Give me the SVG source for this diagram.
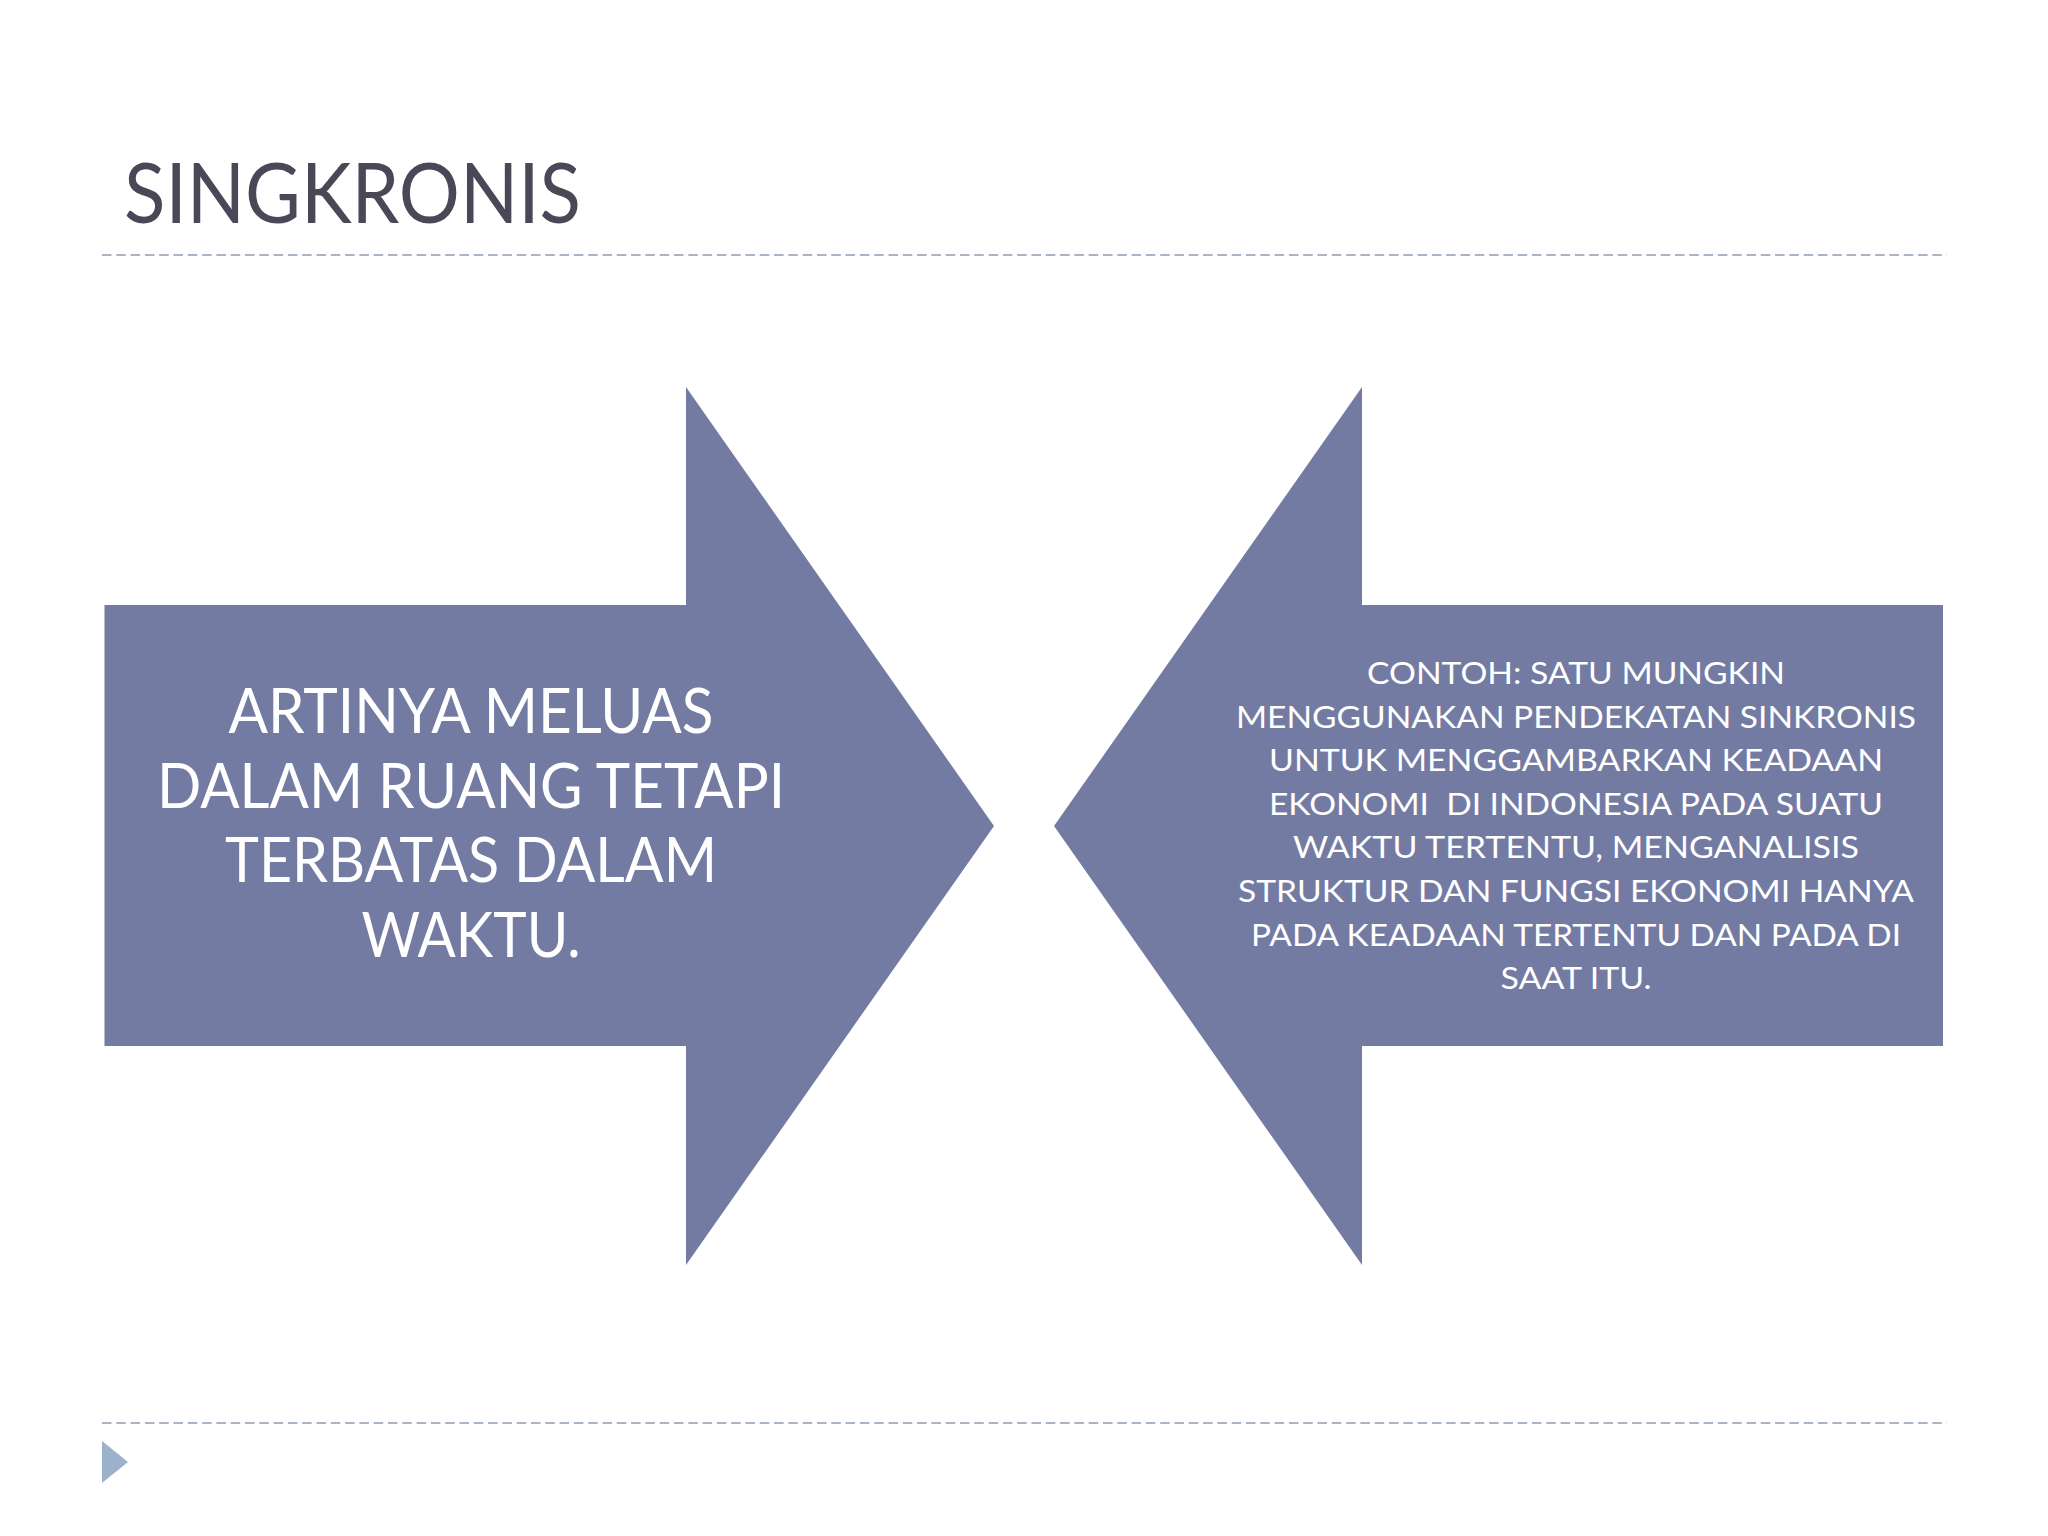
<svg xmlns="http://www.w3.org/2000/svg" width="2048" height="1536" viewBox="0 0 2048 1536">
<style>
.title{font-family:Lato,"Open Sans","Liberation Sans",sans-serif;font-size:84px;fill:#4a4857}
.big{font-family:Lato,"Open Sans","Liberation Sans",sans-serif;font-size:61px;fill:#ffffff;text-anchor:middle}
.small{font-family:Lato,"Open Sans","Liberation Sans",sans-serif;font-size:31px;fill:#ffffff;text-anchor:middle}
.arrow{fill:#737ba3}
.rule{stroke:#a9b5c5;stroke-width:2;stroke-dasharray:9.5 4.8;fill:none}
</style>
<rect width="2048" height="1536" fill="#ffffff"/>
<g id="title">
<text class="title" x="124" y="223" textLength="457" lengthAdjust="spacingAndGlyphs">SINGKRONIS</text>
</g>
<line class="rule" x1="102" y1="255" x2="1947" y2="255"/>
<line class="rule" x1="102" y1="1423" x2="1947" y2="1423"/>
<polygon points="102,1441 128,1462 102,1483" fill="#9cb2cc"/>
<g id="left-arrow">
<polygon class="arrow" points="104.5,605 686,605 686,387 994,826 686,1265 686,1046 104.5,1046"/>
<text class="big" x="471" y="733" textLength="485" lengthAdjust="spacingAndGlyphs">ARTINYA MELUAS</text>
<text class="big" x="471" y="808" textLength="628" lengthAdjust="spacingAndGlyphs">DALAM RUANG TETAPI</text>
<text class="big" x="471" y="882" textLength="492" lengthAdjust="spacingAndGlyphs">TERBATAS DALAM</text>
<text class="big" x="471" y="957" textLength="219" lengthAdjust="spacingAndGlyphs">WAKTU.</text>
</g>
<g id="right-arrow">
<polygon class="arrow" points="1943,605 1362,605 1362,387 1054,826 1362,1265 1362,1046 1943,1046"/>
<text class="small" x="1576" y="684" textLength="418" lengthAdjust="spacingAndGlyphs">CONTOH: SATU MUNGKIN</text>
<text class="small" x="1576" y="728" textLength="680" lengthAdjust="spacingAndGlyphs">MENGGUNAKAN PENDEKATAN SINKRONIS</text>
<text class="small" x="1576" y="771" textLength="614" lengthAdjust="spacingAndGlyphs">UNTUK MENGGAMBARKAN KEADAAN</text>
<text class="small" x="1576" y="815" textLength="614" lengthAdjust="spacingAndGlyphs" xml:space="preserve">EKONOMI  DI INDONESIA PADA SUATU</text>
<text class="small" x="1576" y="858" textLength="566" lengthAdjust="spacingAndGlyphs">WAKTU TERTENTU, MENGANALISIS</text>
<text class="small" x="1576" y="902" textLength="676" lengthAdjust="spacingAndGlyphs">STRUKTUR DAN FUNGSI EKONOMI HANYA</text>
<text class="small" x="1576" y="946" textLength="650" lengthAdjust="spacingAndGlyphs">PADA KEADAAN TERTENTU DAN PADA DI</text>
<text class="small" x="1576" y="989" textLength="151" lengthAdjust="spacingAndGlyphs">SAAT ITU.</text>
</g>
</svg>
